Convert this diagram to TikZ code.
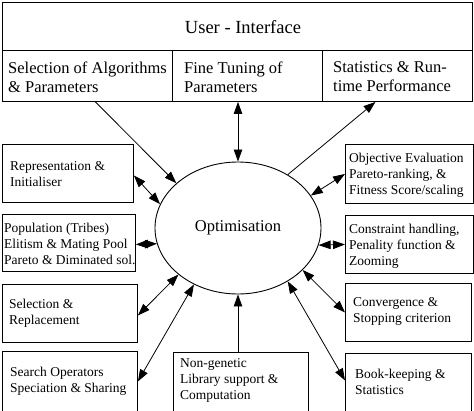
\documentclass[tikz,border=0pt]{standalone}
\usepackage{fontspec}
\setmainfont{Liberation Serif}
\usetikzlibrary{shapes.geometric,arrows.meta}
\tikzset{
  box/.style={draw, line width=0.9pt, inner sep=0pt, anchor=north west},
  lbl/.style={inner sep=0pt, anchor=west, align=left, font=\fontsize{13.5}{16}\selectfont},
  toplbl/.style={inner sep=0pt, anchor=west, align=left, font=\fontsize{16.5}{19}\selectfont},
  Tri/.tip={Triangle[length=12pt,width=8.5pt]},
  dbl/.style={Tri-Tri, line width=0.8pt},
  sgl/.style={-Tri, line width=0.8pt},
}
\begin{document}
\begin{tikzpicture}[x=1pt,y=-1pt]
\clip (0,0) rectangle (474,410);
\fill[white] (0,0) rectangle (474,410);
% top interface
\node[box, minimum width=470pt, minimum height=48pt] (ui) at (2,2) {};
\node[inner sep=0pt, font=\fontsize{18.5}{22}\selectfont] (uit) at (243,27) {User - Interface};
\node[box, minimum width=170pt, minimum height=51pt] (c1) at (2,50) {};
\node[box, minimum width=150pt, minimum height=51pt] (c2) at (172,50) {};
\node[box, minimum width=150pt, minimum height=51pt] (c3) at (322,50) {};
\node[toplbl] (c1t) at (8,77) {Selection of Algorithms\\\& Parameters};
\node[toplbl] (c2t) at (184,77) {Fine Tuning of\\Parameters};
\node[toplbl] (c3t) at (333,77) {Statistics \& Run-\\time Performance};
% central ellipse
\node[draw, ellipse, line width=0.9pt, minimum width=166pt, minimum height=132pt, inner sep=0pt,
      font=\fontsize{16.5}{19}\selectfont] (opt) at (238,228) {Optimisation};
% left boxes
\node[box, minimum width=131pt, minimum height=58pt] (l1) at (2,144) {};
\node[lbl] (l1t) at (10,174) {Representation \&\\Initialiser};
\node[box, minimum width=133pt, minimum height=57pt] (l2) at (2,214) {};
\node[lbl] (l2t) at (4,244) {Population (Tribes)\\Elitism \& Mating Pool\\Pareto \& Diminated sol.};
\node[box, minimum width=135pt, minimum height=58pt] (l3) at (2,284) {};
\node[lbl] (l3t) at (9,313) {Selection \&\\Replacement};
\node[box, minimum width=135pt, minimum height=60pt] (l4) at (2,351) {};
\node[lbl] (l4t) at (10,381) {Search Operators\\Speciation \& Sharing};
% right boxes
\node[box, minimum width=128pt, minimum height=59pt] (r1) at (345,144) {};
\node[lbl] (r1t) at (349,175) {Objective Evaluation\\Pareto-ranking, \&\\Fitness Score/scaling};
\node[box, minimum width=128pt, minimum height=58pt] (r2) at (345,215) {};
\node[lbl] (r2t) at (349,246) {Constraint handling,\\Penality function \&\\Zooming};
\node[box, minimum width=126pt, minimum height=58pt] (r3) at (345,283) {};
\node[lbl] (r3t) at (353,311) {Convergence \&\\Stopping criterion};
\node[box, minimum width=126pt, minimum height=58pt] (r4) at (345,353) {};
\node[lbl] (r4t) at (355,382) {Book-keeping \&\\Statistics};
% bottom box
\node[box, minimum width=135pt, minimum height=60pt] (b) at (173,352) {};
\node[lbl] (bt) at (180,380) {Non-genetic\\Library support \&\\Computation};
% connectors
\draw[sgl] ([xshift=8pt]c1.south) -- (opt.144);
\draw[dbl] (opt.north) -- (opt.north |- c2.south);
\draw[sgl] (opt.47) -- ([xshift=-22pt]c3.south);
\draw[dbl] ([yshift=-2pt]l1.east) -- (opt.163);
\draw[dbl] ([yshift=-1.5pt]l2.east) -- (opt.191);
\draw[dbl] ([yshift=-2pt]l3.east) -- (opt.218);
\draw[dbl] (l4.east) -- (opt.232);
\draw[dbl] (r1.west) -- (opt.24);
\draw[dbl] (r2.west) -- (opt.348);
\draw[dbl] (r3.west) -- (opt.327);
\draw[dbl] ([yshift=2pt]r4.west) -- (opt.313);
\draw[sgl] (opt.south |- b.north) -- (opt.south);
\end{tikzpicture}
\end{document}
